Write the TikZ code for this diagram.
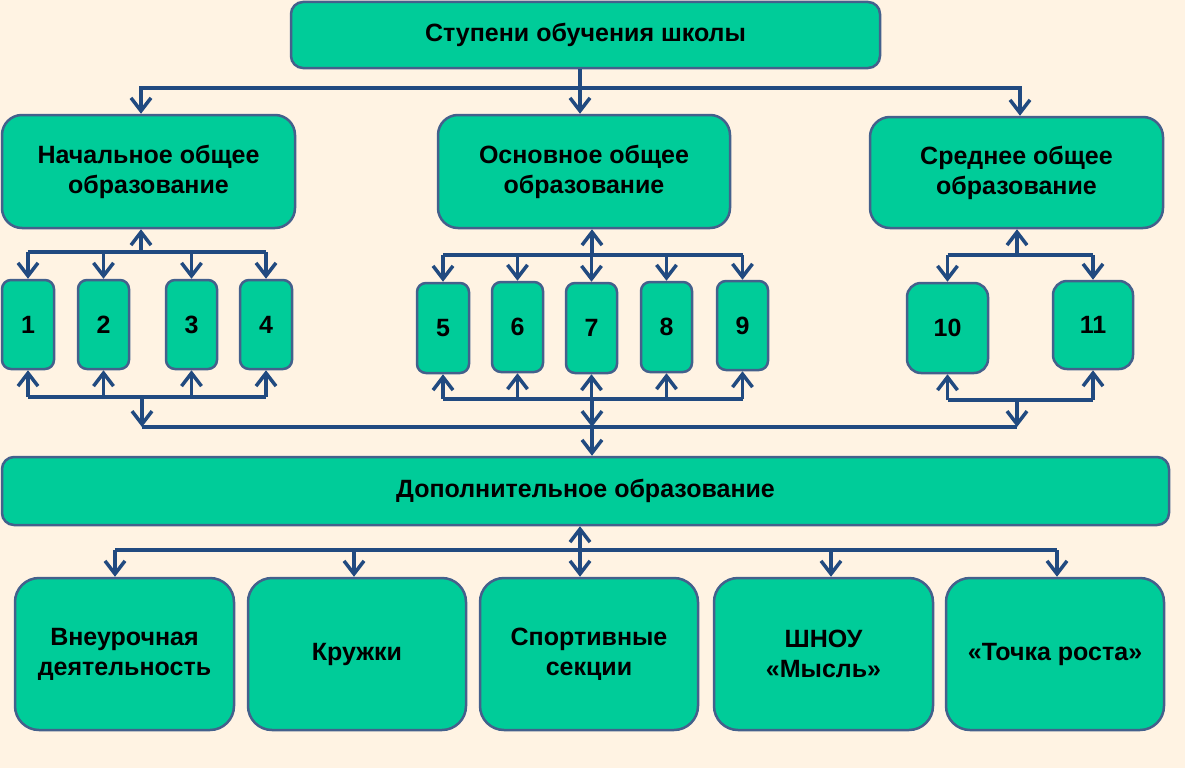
\documentclass[tikz,border=0pt]{standalone}
\usepackage{fontspec}
\setmainfont{Liberation Sans}
\usetikzlibrary{arrows.meta}
\definecolor{bg}{RGB}{255,243,227}
\definecolor{boxfill}{RGB}{0,204,153}
\definecolor{boxline}{RGB}{68,96,140}
\definecolor{conn}{RGB}{33,74,128}
\tikzset{
  box/.style={draw=boxline, line width=2.5pt, fill=boxfill, rounded corners=#1,
    align=center, inner sep=2pt, font=\fontsize{25}{30}\selectfont\bfseries},
  box/.default=18pt,
  line/.style={draw=conn, line width=3.5pt},
  arr/.style={line, -{Straight Barb[length=13pt,width=20pt,line width=3.5pt]}},
}
\begin{document}
\begin{tikzpicture}[x=1pt,y=-1pt]
\fill[bg] (0,0) rectangle (1185,768);
\useasboundingbox (0,0) rectangle (1185,768);

% top
\node[box=12pt, minimum width=589pt, minimum height=66pt] (top) at (585.5,35) {Ступени обучения школы};
\node[box=20pt, minimum width=293pt, minimum height=113pt] (n1) at (148.5,171.5) {Начальное общее\\образование};
\node[box=20pt, minimum width=292pt, minimum height=113pt] (n2) at (584,171.5) {Основное общее\\образование};
\node[box=20pt, minimum width=293pt, minimum height=111pt] (n3) at (1016.5,172.5) {Среднее общее\\образование};

% small boxes
\node[box=9pt, minimum width=52pt, minimum height=89pt] (b1) at (28,324.5) {1};
\node[box=9pt, minimum width=51pt, minimum height=89pt] (b2) at (103.5,324.5) {2};
\node[box=9pt, minimum width=51pt, minimum height=89pt] (b3) at (191.5,324.5) {3};
\node[box=9pt, minimum width=52pt, minimum height=89pt] (b4) at (266,324.5) {4};
\node[box=9pt, minimum width=52pt, minimum height=90pt] (b5) at (443,328) {5};
\node[box=9pt, minimum width=51pt, minimum height=90pt] (b6) at (517.5,327) {6};
\node[box=9pt, minimum width=51pt, minimum height=90pt] (b7) at (591.5,328) {7};
\node[box=9pt, minimum width=51pt, minimum height=90pt] (b8) at (666.5,327) {8};
\node[box=9pt, minimum width=51pt, minimum height=89pt] (b9) at (742.5,325.5) {9};
\node[box=14pt, minimum width=81pt, minimum height=90pt] (b10) at (947.5,328) {10};
\node[box=14pt, minimum width=80pt, minimum height=88pt] (b11) at (1093,325) {11};

% additional education
\node[box=12pt, minimum width=1167pt, minimum height=68pt] (dop) at (585.5,491) {Дополнительное образование};

% bottom
\node[box=24pt, minimum width=219pt, minimum height=152pt] (c1) at (124.5,654) {Внеурочная\\деятельность};
\node[box=24pt, minimum width=218pt, minimum height=152pt] (c2) at (357,654) {Кружки};
\node[box=24pt, minimum width=218pt, minimum height=152pt] (c3) at (589,654) {Спортивные\\секции};
\node[box=24pt, minimum width=219pt, minimum height=152pt] (c4) at (823.5,654) {ШНОУ\\«Мысль»};
\node[box=24pt, minimum width=218pt, minimum height=152pt] (c5) at (1055,654) {«Точка роста»};

% ---- top tree
\coordinate (t0) at (580,88);
\draw[line] ([xshift=-5.5pt]top.south) -- (t0);
\draw[arr] (t0) -| ([xshift=-7.5pt]n1.north);
\draw[arr] (t0) -- (t0 |- n2.north);
\draw[arr] (t0) -| ([xshift=3.5pt]n3.north);

% ---- group 1
\coordinate (g1) at (141,252);
\coordinate (h1) at (142,397);
\coordinate (L1) at (142,427);
\draw[arr] (g1) -- (g1 |- n1.south);
\draw[line] (b1.north |- g1) -- (b4.north |- g1);
\foreach \b in {b1,b2,b3,b4} \draw[arr] (\b.north |- g1) -- (\b.north);
\draw[line] (b1.south |- h1) -- (b4.south |- h1);
\foreach \b in {b1,b2,b3,b4} \draw[arr] (\b.south |- h1) -- (\b.south);
\draw[arr] (h1) -- (L1);

% ---- group 2
\coordinate (g2) at (592,255);
\coordinate (h2) at (592,399);
\coordinate (L2) at (592,427);
\draw[arr] (g2) -- (g2 |- n2.south);
\draw[line] (b5.north |- g2) -- (b9.north |- g2);
\foreach \b in {b5,b6,b7,b8,b9} \draw[arr] (\b.north |- g2) -- (\b.north);
\draw[line] (b5.south |- h2) -- (b9.south |- h2);
\foreach \b in {b5,b6,b7,b8,b9} \draw[arr] (\b.south |- h2) -- (\b.south);
\draw[arr] (h2) -- (L2);
\draw[arr] (L2) -- (L2 |- dop.north);

% ---- group 3
\coordinate (g3) at (1017,255);
\coordinate (h3) at (1017,400);
\coordinate (L3) at (1017,427);
\draw[arr] (g3) -- (g3 |- n3.south);
\draw[line] (b10.north |- g3) -- (b11.north |- g3);
\foreach \b in {b10,b11} \draw[arr] (\b.north |- g3) -- (\b.north);
\draw[line] (b10.south |- h3) -- (b11.south |- h3);
\foreach \b in {b10,b11} \draw[arr] (\b.south |- h3) -- (\b.south);
\draw[arr] (h3) -- (L3);

% long bar
\draw[line] (L1) -- (L3);

% ---- bottom tree
\coordinate (d0) at (580,550);
\draw[arr] (d0) -- (d0 |- dop.south);
\draw[line] ([xshift=-9.5pt]c1.north |- d0) -- ([xshift=2pt]c5.north |- d0);
\draw[arr] ([xshift=-9.5pt]c1.north |- d0) -- ([xshift=-9.5pt]c1.north);
\draw[arr] ([xshift=-3pt]c2.north |- d0) -- ([xshift=-3pt]c2.north);
\draw[arr] (d0) -- (d0 |- c3.north);
\draw[arr] ([xshift=7.5pt]c4.north |- d0) -- ([xshift=7.5pt]c4.north);
\draw[arr] ([xshift=2pt]c5.north |- d0) -- ([xshift=2pt]c5.north);
\end{tikzpicture}
\end{document}
